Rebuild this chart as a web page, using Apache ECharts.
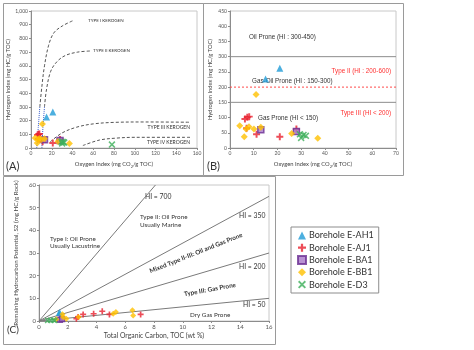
<!DOCTYPE html>
<html>
<head>
<meta charset="utf-8">
<script src="https://cdn.jsdelivr.net/npm/echarts@6/dist/echarts.min.js"></script>
<style>
  html, body { margin: 0; padding: 0; background: #fff; }
  #chart { width: 474px; height: 350px; }
</style>
</head>
<body>
<div id="chart"></div>
<script>
// ---- data ---------------------------------------------------------------
let names = ['Borehole E-AH1', 'Borehole E-AJ1', 'Borehole E-BA1', 'Borehole E-BB1', 'Borehole E-D3'];

// Oxygen Index, Hydrogen Index  (panels A and B)
let ah1OiHi = [[21, 262], [15, 227]];
let aj1OiHi = [[6.3, 95], [7.3, 101], [8.1, 103], [7, 65], [11.2, 45], [21, 37], [28, 62]];
let ba1OiHi = [[13, 60], [28, 54]];
let bb1OiHi = [[11, 176], [4.1, 73], [8, 70], [10.1, 62], [6, 37], [13, 68], [26, 48], [37, 32], [6.8, 62]];
let d3OiHi = [[30, 33], [31, 43], [32, 40], [29.5, 45], [78, 25]];

// TOC, S2  (panel C)
let ah1TocS2 = [[1.44, 4.0], [1.38, 3.5]];
let aj1TocS2 = [[3.07, 2.9], [3.8, 3.2], [4.4, 4.3], [4.9, 2.9], [7.07, 2.9], [2.72, 1.8], [2.6, 1.0]];
let ba1TocS2 = [[1.45, 0.6], [1.6, 0.9]];
let bb1TocS2 = [[1.63, 3.0], [1.67, 1.8], [1.9, 1.0], [5.16, 3.2], [5.35, 4.0], [6.5, 4.7], [6.55, 2.4], [2.75, 1.8], [1.2, 0.8]];
let d3TocS2 = [[0.6, 0.2], [0.8, 0.3], [1.0, 0.4], [1.1, 0.2]];

// kerogen curves (panel A)
let type1Low = [[5.5, 0], [7, 150], [8.5, 300]];
let type1 = [[8.5, 300], [10.5, 450], [13, 600], [17, 750], [22, 840], [30, 890], [40, 928]];
let type2Low = [[10.5, 0], [11.5, 150], [13, 300]];
let type2 = [[13, 300], [15, 430], [19, 560], [25, 630], [33, 675], [45, 700], [57, 708]];
let type3 = [[18.5, 45], [30, 110], [44, 152], [60, 176], [80, 187], [110, 190], [154, 188]];
let type4 = [[50, 18], [66, 58], [82, 72], [100, 78], [154, 78]];

// HI lines (panel C)
let hi700 = [[0, 0], [8.1, 60]];
let hi350 = [[0, 0], [16, 55]];
let hi200 = [[0, 0], [16, 30]];
let hi50 = [[0, 0], [16, 10]];

// panel B HI bands
let oilProneLine = [[0, 300], [70, 300]];
let gasProneLine = [[0, 150], [70, 150]];
let typeLine = [[0, 200], [70, 200]];

// ---- style ---------------------------------------------------------------
let colors = ['#1f9bd7', '#e8212e', '#8a4bb0', '#ffc000', '#3daf5a'];
let symbols = [
    'triangle',
    'path://M3.6,0H6.4V3.6H10V6.4H6.4V10H3.6V6.4H0V3.6H3.6Z',
    'rect',
    'diamond',
    'path://M0,1.6L1.6,0L5,3.4L8.4,0L10,1.6L6.6,5L10,8.4L8.4,10L5,6.6L1.6,10L0,8.4L3.4,5Z'
];
let font = 'Lato, "Liberation Sans", sans-serif';

function makeAxis(idx, min, max, interval, name, gap, fs, nfs) {
    let ax = {
        gridIndex: idx, type: 'value', min: min, max: max, interval: interval,
        name: name, nameLocation: 'middle', nameGap: gap,
        nameTextStyle: {
            fontSize: nfs, color: '#444', fontFamily: font,
            rich: { sub: { fontSize: fs - 1, color: '#444', verticalAlign: 'bottom', padding: [0, 0, -2, 0] } }
        },
        axisLine: { show: true, onZero: false, lineStyle: { color: '#8c8c8c', width: 1 } },
        axisTick: { show: true, length: 2, lineStyle: { color: '#8c8c8c' } },
        axisLabel: { fontSize: fs, color: '#555', margin: 3, fontFamily: font },
        splitLine: { show: false }
    };
    return ax;
}

let series = [];
let abSets = [ah1OiHi, aj1OiHi, ba1OiHi, bb1OiHi, d3OiHi];
let cSets = [ah1TocS2, aj1TocS2, ba1TocS2, bb1TocS2, d3TocS2];

function pushScatter(gi, sets, size) {
    for (let i = 0; i < names.length; i++) {
        series.push({
            name: names[i], type: 'scatter', xAxisIndex: gi, yAxisIndex: gi,
            data: sets[i], symbol: symbols[i], symbolSize: i === 2 ? size - 1 : size,
            clip: true, z: 5,
            itemStyle: i === 2
                ? { color: '#a877c8', borderColor: '#6c2f93', borderWidth: 1.5 }
                : { color: colors[i] }
        });
    }
}
pushScatter(0, abSets, 7);
pushScatter(1, abSets, 7);
pushScatter(2, cSets, 6);

// ----------------------------------------------------
function line(gi, data, color, type, smooth) {
    series.push({
        type: 'line', xAxisIndex: gi, yAxisIndex: gi, data: data, smooth: smooth,
        showSymbol: false, silent: true, z: 2,
        lineStyle: { color: color, width: 1, type: type }
    });
}
line(0, type1Low, '#3a5fcd', 'dotted', 0.2);
line(0, type1, '#555', [3, 2], 0.35);
line(0, type2Low, '#3a5fcd', 'dotted', 0.2);
line(0, type2, '#555', [3, 2], 0.35);
line(0, type3, '#555', [3, 2], 0.35);
line(0, type4, '#555', [3, 2], 0.35);

// panel B band lines
line(1, oilProneLine, '#8c8c8c', 'solid', false);
line(1, gasProneLine, '#8c8c8c', 'solid', false);
line(1, typeLine, '#ff4a4a', [2, 2], false);

// panel C HI lines
[hi700, hi350, hi200, hi50].forEach(d => line(2, d, '#7a7a7a', 'solid', false));

// ----------------------------------------------------
function txt(x, y, s, fs, extra) {
    let o = {
        type: 'text', x: x, y: y, silent: true,
        style: Object.assign({ text: s, fontSize: fs, fill: '#333', fontFamily: font, textVerticalAlign: 'middle' }, extra || {})
    };
    return o;
}
let frame = (x, y, w, h) => ({
    type: 'rect', shape: { x: x, y: y, width: w, height: h }, silent: true,
    style: { fill: null, stroke: '#9a9a9a', lineWidth: 1 }
});
let arial = '"Liberation Sans", Arial, sans-serif';

let graphics = [
    frame(3.5, 3.5, 200, 172),
    frame(203.5, 3.5, 200, 172),
    frame(3.5, 176.5, 272, 168),
    txt(6, 166, '(A)', 11),
    txt(207, 166, '(B)', 11),
    txt(7, 330, '(C)', 10),
    // panel A curve labels
    txt(88, 21, 'TYPE I KEROGEN', 4.5),
    txt(93, 51, 'TYPE II KEROGEN', 4.5),
    txt(190, 127, 'TYPE III KEROGEN', 5, { textAlign: 'right' }),
    txt(190, 142, 'TYPE IV KEROGEN', 5, { textAlign: 'right' }),
    // panel B texts
    txt(249, 37, 'Oil Prone (HI : 300-450)', 6.3, { fontFamily: arial }),
    txt(252, 81, 'Gas-Oil Prone (HI : 150-300)', 6.3, { fontFamily: arial }),
    txt(258, 118, 'Gas Prone (HI < 150)', 6.3, { fontFamily: arial }),
    txt(391, 71, 'Type II (HI : 200-600)', 6.3, { fontFamily: arial, fill: '#ff3030', textAlign: 'right' }),
    txt(391, 113, 'Type III (HI < 200)', 6.3, { fontFamily: arial, fill: '#ff3030', textAlign: 'right' }),
    // panel C texts
    txt(145, 197, 'HI = 700', 6.8),
    txt(239, 216, 'HI = 350', 6.8),
    txt(239, 267, 'HI = 200', 6.8),
    txt(243, 305, 'HI = 50', 6.8),
    txt(140, 217, 'Type II: Oil Prone', 6.3),
    txt(140, 224.5, 'Usually Marine', 6.3),
    txt(50, 239, 'Type I: Oil Prone', 6.3),
    txt(50, 246, 'Usually Lacustrine', 6.3),
    txt(190, 315, 'Dry Gas Prone', 6.3),
    Object.assign(txt(196, 253, 'Mixed Type II-III: Oil and Gas Prone', 6.3, { textAlign: 'center', fontWeight: 'bold' }), { rotation: 0.377 }),
    Object.assign(txt(210, 289.5, 'Type III: Gas Prone', 6.3, { textAlign: 'center', fontWeight: 'bold' }), { rotation: 0.18 })
];

let chart = echarts.init(document.getElementById('chart'));
let option = {
    animation: false,
    backgroundColor: '#fff',
    grid: [
        { left: 31, top: 11, width: 166, height: 137, show: true, borderColor: '#c8c8c8', borderWidth: 1 },
        { left: 230, top: 11, width: 166, height: 137, show: true, borderColor: '#c8c8c8', borderWidth: 1 },
        { left: 39, top: 185, width: 230, height: 136, show: true, borderColor: '#c8c8c8', borderWidth: 1 }
    ],
    xAxis: [
        makeAxis(0, 0, 160, 20, 'Oxygen Index (mg CO{sub|2}/g TOC)', 13, 5, 5.8),
        makeAxis(1, 0, 70, 10, 'Oxygen Index (mg CO{sub|2}/g TOC)', 13, 5, 5.8),
        makeAxis(2, 0, 16, 2, 'Total Organic Carbon, TOC (wt %)', 11, 6, 6.8)
    ],
    yAxis: [
        makeAxis(0, 0, 1000, 100, 'Hydrogen Index (mg HC/g TOC)', 17, 5, 5.8),
        makeAxis(1, 0, 450, 50, 'Hydrogen Index (mg HC/g TOC)', 17, 5, 5.8),
        makeAxis(2, 0, 60, 10, 'Remaining Hydrocarbon Potential, S2 (mg HC/g Rock)', 20, 6, 6.2)
    ],
    legend: {
        data: names, orient: 'vertical', left: 291, top: 227,
        borderColor: '#8c8c8c', borderWidth: 1, borderRadius: 0,
        padding: [3, 5, 3, 6], itemGap: 1.5, itemWidth: 8, itemHeight: 8,
        textStyle: { fontSize: 9, lineHeight: 10.8, color: '#333', fontFamily: font, padding: [0, 0, 0, -2] }
    },
    graphic: graphics,
    series: series
};
chart.setOption(option);
</script>
</body>
</html>
